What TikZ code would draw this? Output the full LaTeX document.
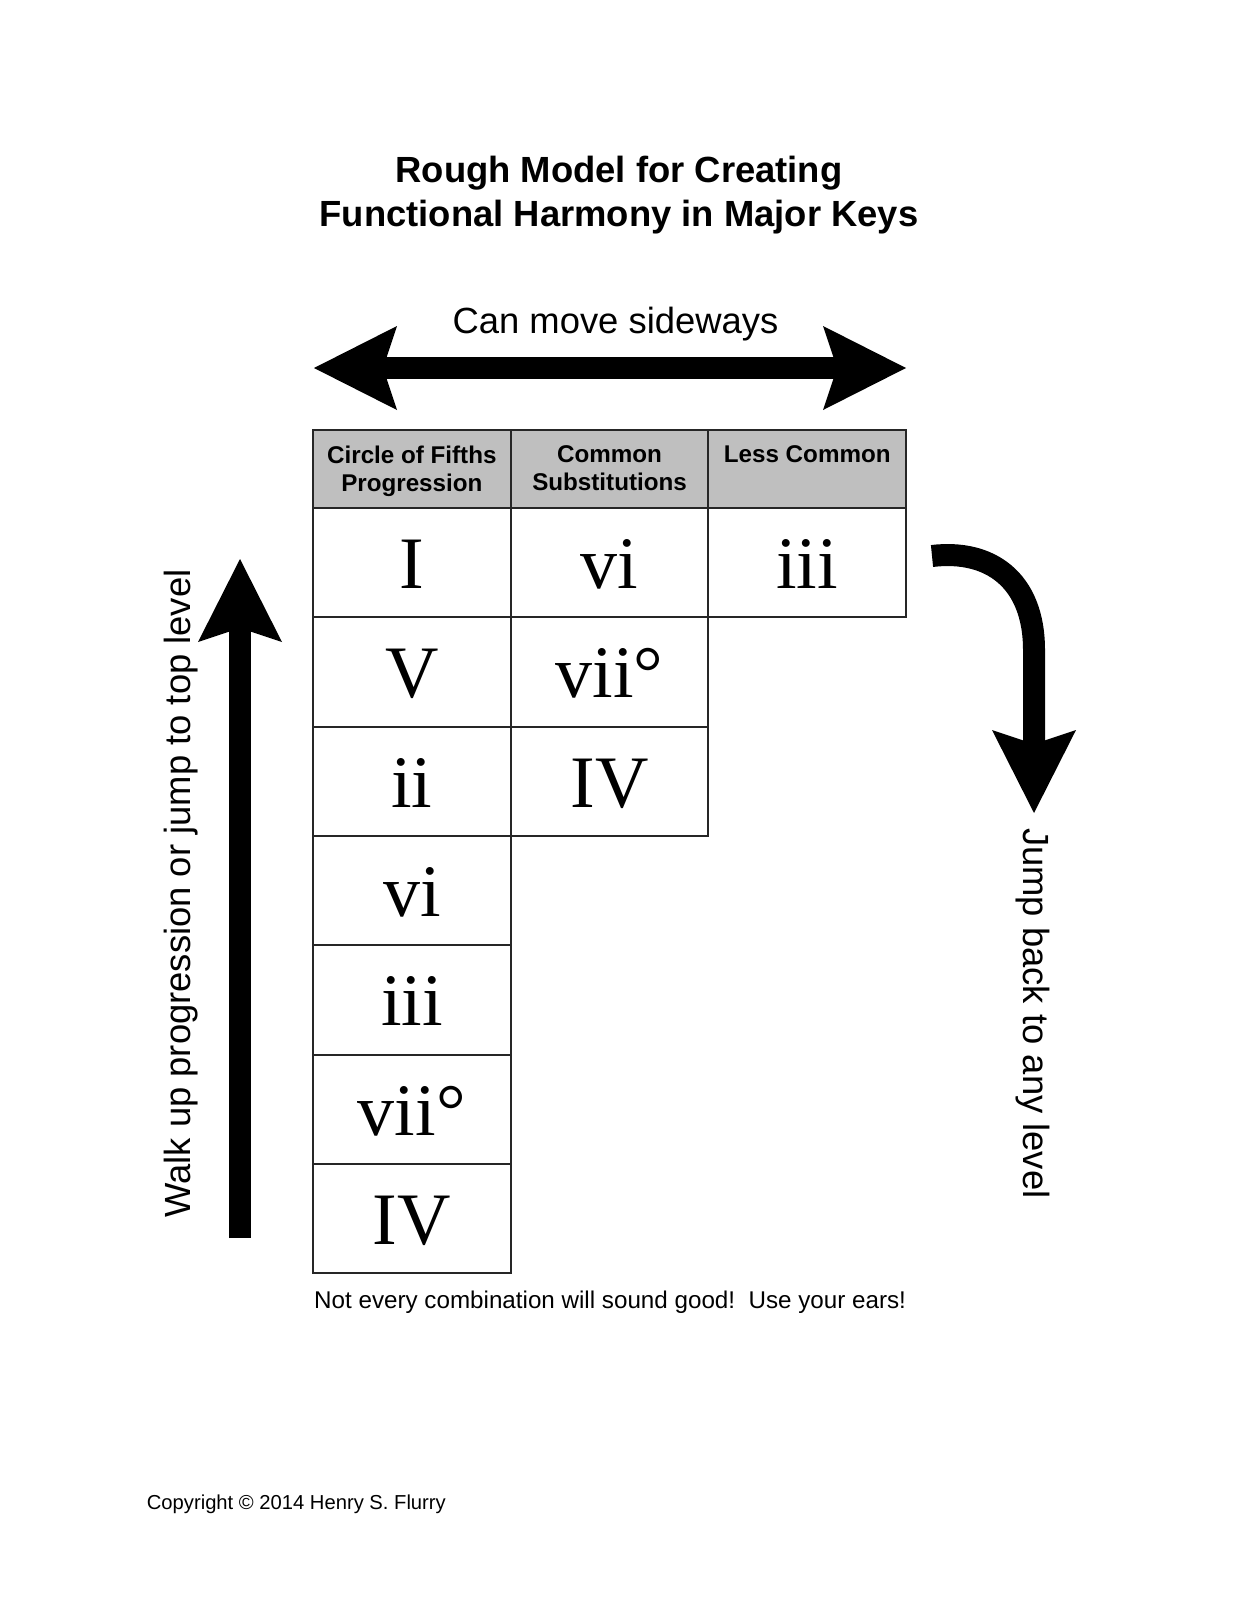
\documentclass[tikz,border=0pt]{standalone}
\usepackage{fontspec}
\setmainfont{Liberation Serif}
\setsansfont{Liberation Sans}
\usetikzlibrary{arrows.meta,calc}

\begin{document}
\begin{tikzpicture}[x=1pt,y=-1pt,
	>={Stealth[length=83pt,width=84pt,inset=14pt,line width=0pt]},
	fat/.style={line width=22pt},
	cell/.style={draw=black!85, line width=2pt, outer sep=0pt, inner sep=0pt, minimum width=197.7pt, minimum height=109.3pt, text height=51.7pt, text depth=0pt, font=\fontsize{74}{80}\selectfont},
	hcell/.style={draw=black!85, fill=black!25, line width=2pt, outer sep=0pt, minimum width=197.7pt, minimum height=78pt},
	htext/.style={anchor=north, inner sep=0pt, align=center, font=\sffamily\bfseries\fontsize{24.2}{28}\selectfont},
	lbl/.style={inner sep=0pt, font=\sffamily\fontsize{36.4}{43}\selectfont}]
			\useasboundingbox[fill=white] (0,0) rectangle (1236,1600);

			\node[inner sep=0pt, anchor=north, align=center, font=\sffamily\bfseries\fontsize{36.4}{43.3}\selectfont] (title) at (619,156.2) {Rough Model for Creating\\Functional Harmony in Major Keys};

			\node[hcell] (hcof) at (411.85,469) {};
			\node[hcell] (hsub) at (609.55,469) {};
			\node[hcell] (hless) at (807.25,469) {};
			\node[htext] (tcof) at ($(hcof.north)+(0,15.3)$) {Circle of Fifths\\Progression};
			\node[htext] (tsub) at ($(hsub.north)+(0,15.3)$) {Common\\Substitutions};
			\node[htext] (tless) at ($(hless.north)+(0,15.3)$) {Less Common};

			\node[cell] (cof1) at (411.85,562.65) {I};
			\node[cell] (cof2) at (411.85,671.95) {V};
			\node[cell] (cof3) at (411.85,781.25) {ii};
			\node[cell] (cof4) at (411.85,890.55) {vi};
			\node[cell] (cof5) at (411.85,999.85) {iii};
			\node[cell] (cof6) at (411.85,1109.15) {vii°};
			\node[cell] (cof7) at (411.85,1218.45) {IV};
			\node[cell] (sub1) at (609.55,562.65) {vi};
			\node[cell] (sub2) at (609.55,671.95) {vii°};
			\node[cell] (sub3) at (609.55,781.25) {IV};
			\node[cell] (less1) at (807.25,562.65) {iii};

			\coordinate (sideL) at (314,368);
			\coordinate (sideR) at (906,368);
			\coordinate (walkB) at (240,1238);
			\coordinate (walkT) at (240,559);
			\coordinate (jumpS) at (932,556);
			\coordinate (jumpM) at (1034,650);
			\coordinate (jumpE) at (1034,813);

			\draw[fat,<->] (sideL) -- (sideR);
			\draw[fat,->] (walkB) -- (walkT);
			\draw[fat,->] (jumpS) .. controls +(58,-7) and +(0,-70) .. (jumpM) -- (jumpE);

			\node[lbl, anchor=base] (side) at (615.5,333.5) {Can move sideways};
			\node[lbl, anchor=base west, rotate=90] (walk) at (190,1217.7) {Walk up progression or jump to top level};
			\node[lbl, anchor=base west, rotate=-90] (jump) at (1023,828) {Jump back to any level};

			\node[inner sep=0pt, anchor=base west, font=\sffamily\fontsize{24.2}{28}\selectfont] (note) at (314,1308.3) {Not every combination will sound good!\ \ Use your ears!};
			\node[inner sep=0pt, anchor=base west, font=\sffamily\fontsize{20.2}{24}\selectfont] (copy) at (146.7,1509) {Copyright © 2014 Henry S. Flurry};
\end{tikzpicture}
\end{document}
